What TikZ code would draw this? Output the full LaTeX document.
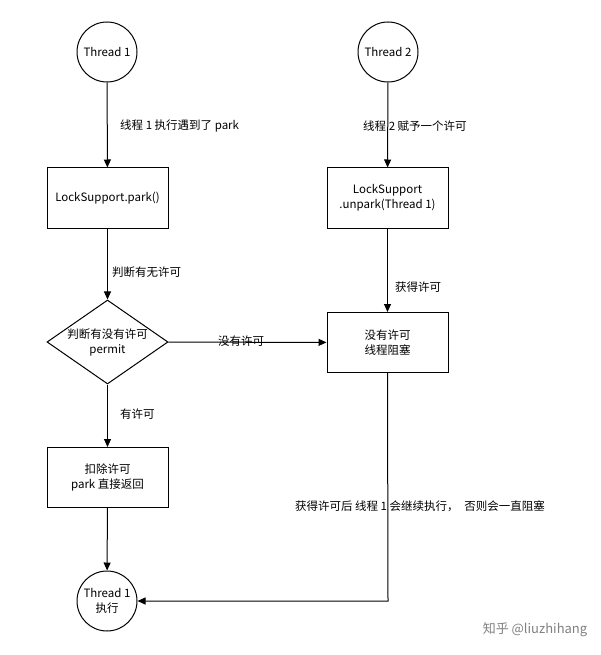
\documentclass[tikz,border=0pt]{standalone}
\usepackage{fontspec}
\setmainfont{Noto Sans CJK SC}
\usetikzlibrary{shapes.geometric,arrows.meta}
\begin{document}
\begin{tikzpicture}[x=1pt,y=-1pt,font=\fontsize{11.5}{15}\selectfont,
  circ/.style={draw,line width=1pt,circle,minimum size=60pt,inner sep=0pt,align=center},
  box/.style={draw,line width=1pt,minimum width=121pt,minimum height=60pt,align=center},
  dia/.style={draw,line width=1pt,diamond,aspect=1.45,minimum width=121pt,minimum height=84pt,inner sep=0pt,align=center},
  arr/.style={line width=1pt,-{Triangle[length=8pt,width=7pt]}},
  lab/.style={anchor=west,inner sep=0pt}]
\useasboundingbox (0,0) rectangle (600,655);
\node[circ] (t1) at (107,52) {Thread 1};
\node[circ] (t2) at (388,52) {Thread 2};
\node[box] (park) at (107.5,198) {LockSupport.park()};
\node[box] (unpark) at (387.5,198) {LockSupport\\.unpark(Thread 1)};
\node[dia] (d) at (107.5,342) {判断有没有许可\\permit};
\node[box] (block) at (387.5,342.5) {没有许可\\线程阻塞};
\node[box] (ret) at (107.5,477.5) {扣除许可\\park 直接返回};
\node[circ] (t1e) at (107,601) {Thread 1\\执行};
\coordinate (c) at (388,601);
\draw[arr] (t1) -- (park);
\draw[arr] (t2) -- (unpark);
\draw[arr] (park) -- (d);
\draw[arr] (unpark) -- (block);
\draw[arr] (d) -- (block);
\draw[arr] (d) -- (ret);
\draw[arr] (ret) -- (t1e);
\draw[arr] (block.south) -- (c) -- (t1e);
\node[lab] (l1) at (120,126) {线程 1 执行遇到了 park};
\node[lab] (l2) at (363,126) {线程 2 赋予一个许可};
\node[lab] (l3) at (112,272) {判断有无许可};
\node[lab] (l4) at (218,341) {没有许可};
\node[lab] (l5) at (395,287) {获得许可};
\node[lab] (l6) at (120,414) {有许可};
\node (l7) at (420,506) {获得许可后 线程 1 会继续执行，\hspace{0.5em}否则会一直阻塞};
\node[text=gray,font=\fontsize{13}{15}\selectfont] (wm) at (535,630) {知乎 @liuzhihang};
\end{tikzpicture}
\end{document}
